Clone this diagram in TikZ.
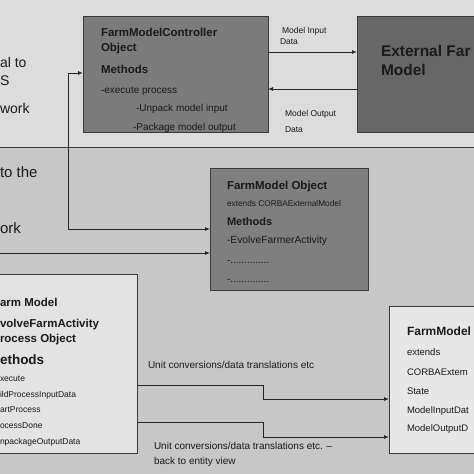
\documentclass[tikz,border=0pt]{standalone}
\usepackage{fontspec}
\setmainfont{Liberation Sans}
\usetikzlibrary{arrows.meta}
\newcommand\myfs[1]{\fontsize{#1}{#1}\selectfont}
\definecolor{bandtop}{HTML}{DCDCDC}
\definecolor{bandlow}{HTML}{C7C7C7}
\definecolor{ctrlfill}{HTML}{7B7B7B}
\definecolor{extfill}{HTML}{676767}
\definecolor{fmofill}{HTML}{7F7F7F}
\definecolor{lboxfill}{HTML}{E3E3E3}
\definecolor{rboxfill}{HTML}{E7E7E7}
\definecolor{edge}{HTML}{3A3A3A}
\definecolor{txtc}{HTML}{1A1A1A}
\tikzset{
  box/.style={draw=edge, line width=0.9pt, anchor=north west, inner sep=0, outer sep=0},
  txt/.style={anchor=base west, inner sep=0, outer sep=0, text=txtc},
  conn/.style={draw=black!85, line width=0.9pt},
  arr/.style={conn, -{Latex[length=5pt,width=4pt]}},
  darr/.style={conn, {Latex[length=5pt,width=4pt]}-{Latex[length=5pt,width=4pt]}},
}
\begin{document}
\begin{tikzpicture}[x=1pt,y=-1pt]
\useasboundingbox (0,0) rectangle (474,474);
% bands
\fill[bandtop] (0,0) rectangle (474,147);
\fill[bandlow] (0,147) rectangle (474,474);
\draw[edge, line width=0.9pt] (0,147) -- (474,147);
% band labels (cut at left edge)
\node[txt] (b1) at (0,67) {\myfs{14}al to};
\node[txt] (b2) at (0,85) {\myfs{14}S};
\node[txt] (b3) at (0,113) {\myfs{14}work};
\node[txt] (b4) at (0,177) {\myfs{15}to the};
\node[txt] (b5) at (0,233) {\myfs{15}ork};
% boxes
\node[box, fill=ctrlfill, minimum width=185, minimum height=116] (ctrl) at (83,16) {};
\node[box, fill=extfill, minimum width=125, minimum height=116] (ext) at (357,16) {};
\node[box, fill=fmofill, minimum width=158, minimum height=122] (fmo) at (210,168) {};
\node[box, fill=lboxfill, minimum width=142, minimum height=179] (lbox) at (-5,274) {};
\node[box, fill=rboxfill, minimum width=95, minimum height=147] (rbox) at (389,306) {};
% controller text
\node[txt] (c1) at (101,36) {\myfs{11.5}\bfseries FarmModelController};
\node[txt] (c2) at (101,51) {\myfs{11.5}\bfseries Object};
\node[txt] (c3) at (101,73) {\myfs{11.5}\bfseries Methods};
\node[txt] (c4) at (101,93.5) {\myfs{10}-execute process};
\node[txt] (c5) at (136,111.5) {\myfs{10}-Unpack model input};
\node[txt] (c6) at (133,130.5) {\myfs{10}-Package model output};
% external model text
\node[txt] (e1) at (381,56) {\myfs{15.5}\bfseries External Far};
\node[txt] (e2) at (381,75) {\myfs{15.5}\bfseries Model};
% data labels
\node[txt] (d1) at (282,33) {\myfs{8.5}Model Input};
\node[txt] (d2) at (280,44) {\myfs{8.5}Data};
\node[txt] (d3) at (285,116) {\myfs{8.5}Model Output};
\node[txt] (d4) at (285,132) {\myfs{8.5}Data};
% FarmModel object text
\node[txt] (f1) at (227,189) {\myfs{11.5}\bfseries FarmModel Object};
\node[txt] (f2) at (227,206) {\myfs{8.3}extends CORBAExternalModel};
\node[txt] (f3) at (227,225) {\myfs{11}\bfseries Methods};
\node[txt] (f4) at (227,243.5) {\myfs{10.3}-EvolveFarmerActivity};
\node[txt] (f5) at (227,263) {\myfs{10}-..............};
\node[txt] (f6) at (227,282) {\myfs{10}-..............};
% left box text (cut at left edge)
\node[txt] (l1) at (0,306) {\myfs{11.5}\bfseries arm Model};
\node[txt] (l2) at (0,327) {\myfs{11.5}\bfseries volveFarmActivity};
\node[txt] (l3) at (0,342) {\myfs{11.5}\bfseries rocess Object};
\node[txt] (l4) at (0,364.5) {\myfs{13.5}\bfseries ethods};
\node[txt] (l5) at (0,381) {\myfs{8.5}xecute};
\node[txt] (l6) at (0,397) {\myfs{8.5}ildProcessInputData};
\node[txt] (l7) at (0,412) {\myfs{8.5}artProcess};
\node[txt] (l8) at (0,428) {\myfs{8.5}ocessDone};
\node[txt] (l9) at (0,444) {\myfs{8.5}npackageOutputData};
% right box text
\node[txt] (r1) at (407,335) {\myfs{12}\bfseries FarmModel};
\node[txt] (r2) at (407,355.5) {\myfs{9.5}extends};
\node[txt] (r3) at (407,375) {\myfs{9.5}CORBAExtem};
\node[txt] (r4) at (407,394.5) {\myfs{9.5}State};
\node[txt] (r5) at (407,413.5) {\myfs{9.5}ModelInputDat};
\node[txt] (r6) at (407,431.5) {\myfs{9.5}ModelOutputD};
% unit labels
\node[txt] (u1) at (148,368.5) {\myfs{10}Unit conversions/data translations etc};
\node[txt] (u2) at (154,449.5) {\myfs{10}Unit conversions/data translations etc. –};
\node[txt] (u3) at (154,464.5) {\myfs{10}back to entity view};
% connectors
\draw[arr] (ctrl.east |- 0,52) -- (ext.west |- 0,52);
\draw[arr] (ext.west |- 0,89) -- (ctrl.east |- 0,89);
\coordinate (v1) at (68,73);
\coordinate (v2) at (68,229);
\draw[darr] (ctrl.west |- 0,73) -- (v1) -- (v2) -- (fmo.west |- 0,229);
\coordinate (lin) at (-5,253);
\draw[arr] (lin) -- (fmo.west |- 0,253);
\coordinate (k1) at (263,385);
\coordinate (k2) at (263,399);
\draw[arr] (lbox.east |- 0,385) -- (k1) -- (k2) -- (rbox.west |- 0,399);
\coordinate (k3) at (263,422);
\coordinate (k4) at (263,437);
\draw[arr] (lbox.east |- 0,422) -- (k3) -- (k4) -- (rbox.west |- 0,437);
\end{tikzpicture}
\end{document}
